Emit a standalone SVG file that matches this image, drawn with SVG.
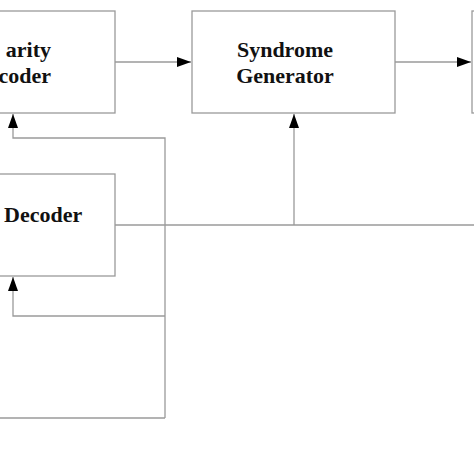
<svg xmlns="http://www.w3.org/2000/svg" width="474" height="474" viewBox="0 0 474 474">
<defs>
<style>
.box{fill:#fff;stroke:#9a9a9a;stroke-width:1.3}
.ln{fill:none;stroke:#9a9a9a;stroke-width:1.3}
.t{font-family:"Liberation Serif",serif;font-weight:bold;font-size:22px;fill:#111}
</style>
<marker id="ah" markerWidth="14" markerHeight="10" refX="14" refY="5" orient="auto" markerUnits="userSpaceOnUse">
<path d="M0,0 L14,5 L0,10 Z" fill="#000"/>
</marker>
</defs>
<rect width="474" height="474" fill="#fff"/>
<g id="parity">
<rect class="box" x="-20" y="11" width="135" height="102"/>
<text class="t" x="51" y="57" text-anchor="end">arity</text>
<text class="t" x="51" y="83" text-anchor="end">coder</text>
</g>
<g id="syndrome">
<rect class="box" x="192" y="11" width="203" height="102"/>
<text class="t" x="285" y="57" text-anchor="middle">Syndrome</text>
<text class="t" x="285" y="83" text-anchor="middle">Generator</text>
</g>
<g id="right">
<rect class="box" x="472" y="11" width="30" height="102"/>
</g>
<g id="decoder">
<rect class="box" x="-20" y="174" width="135" height="102"/>
<text class="t" x="4" y="222">Decoder</text>
</g>
<g id="connectors">
<line class="ln" x1="115" y1="62" x2="191" y2="62" marker-end="url(#ah)"/>
<line class="ln" x1="395" y1="62" x2="471" y2="62" marker-end="url(#ah)"/>
<line class="ln" x1="115" y1="225" x2="474" y2="225"/>
<line class="ln" x1="294" y1="225" x2="294" y2="114" marker-end="url(#ah)"/>
<polyline class="ln" points="165,418 165,138 13,138 13,114" marker-end="url(#ah)"/>
<polyline class="ln" points="165,316 13,316 13,277" marker-end="url(#ah)"/>
<polyline class="ln" points="165,418 0,418"/>
</g>
</svg>
